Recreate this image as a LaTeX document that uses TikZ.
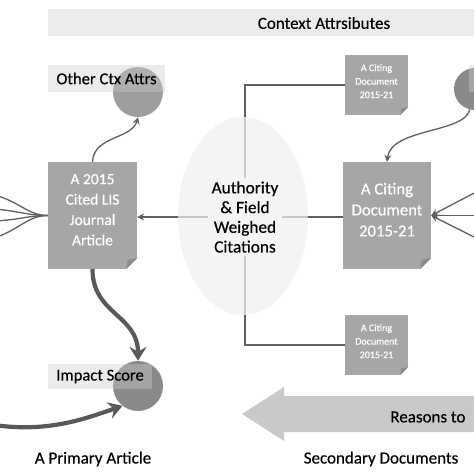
\documentclass[tikz,border=0pt]{standalone}
\usepackage{fontspec}
\setmainfont{Carlito}[FakeBold=0.35]
\usetikzlibrary{arrows.meta,calc}
\definecolor{docgray}{HTML}{A6A6A6}
\definecolor{foldgray}{HTML}{8C8C8C}
\definecolor{bannergray}{HTML}{EBEBEB}
\definecolor{linegray}{HTML}{5F5F5F}
\definecolor{thickgray}{HTML}{595959}
\definecolor{circA}{HTML}{9E9E9E}
\definecolor{circB}{HTML}{8A8A8A}
\definecolor{arrowgray}{HTML}{C9C9C9}
\definecolor{ellgray}{HTML}{F0F0F0}
\definecolor{labgray}{HTML}{CCCCCC}
\pgfdeclarelayer{bg}\pgfdeclarelayer{mid}\pgfsetlayers{bg,mid,main}
\newcommand\stk[2]{\raisebox{#1}[0pt][0pt]{\begin{tabular}{@{}c@{}}#2\end{tabular}}}
\newcommand\dogear[2]{%
  \fill[white] (#1.south east) -- ($(#1.south east)+(-#2,0)$) -- ($(#1.south east)+(0,-#2)$) -- cycle;
  \fill[foldgray] ($(#1.south east)+(-#2,0)$) -- ($(#1.south east)+(0,-#2)$) -- ($(#1.south east)+(-0.85*#2,-0.85*#2)$) -- cycle;}
\begin{document}
\begin{tikzpicture}[x=1pt,y=-1pt,
  docbox/.style={fill=docgray, text=white, inner sep=0pt, align=center},
  labbox/.style={fill=labgray, fill opacity=.39, text opacity=1, inner sep=0pt, font=\fontsize{16.6}{19}\selectfont},
  dot/.style={circle, inner sep=0pt},
  plain/.style={draw=linegray, line width=1.3pt},
  thinarrow/.style={plain, -{Stealth[length=7pt,width=7pt,inset=2.5pt]}},
  thickarrow/.style={draw=thickgray, line width=4.2pt, -{Stealth[length=14pt,width=17pt,inset=5pt]}},
  caption/.style={font=\fontsize{17}{20}\selectfont}]
\useasboundingbox (0,0) rectangle (474,474);
\clip (0,0) rectangle (474,474);

% banner
\node[fill=bannergray, minimum width=440, minimum height=27, inner sep=0, anchor=north west] (banner) at (48,9) {};
\node[caption] (ctx) at (324,23) {Context Attrsibutes};

% circles with labels
\node[dot, fill=circA, minimum size=50] (octx) at (138,92) {};
\node[labbox, minimum width=117, minimum height=27] (octxlab) at (106.5,78.5) {Other Ctx Attrs};
\node[dot, fill=circB, minimum size=50] (impc) at (138,386) {};
\node[labbox, minimum width=104, minimum height=25] (implab) at (100,376.5) {Impact Score};
\node[dot, fill=circB, minimum size=42] (trc) at (475,89) {};
\node[labbox, minimum width=31, minimum height=27] (trlab) at (484.5,78.5) {};

% documents
\node[docbox, minimum width=89, minimum height=107, font=\fontsize{15.5}{20.4}\selectfont] (art) at (92.5,215.5) {\stk{1.2pt}{A 2015\\Cited LIS\\Journal\\Article}};
\dogear{art}{11}
\node[docbox, minimum width=88, minimum height=107, font=\fontsize{16.7}{21}\selectfont] (cite) at (387,215.5) {\stk{0pt}{A Citing\\Document\\2015-21}};
\dogear{cite}{11}
\node[docbox, minimum width=63, minimum height=60, font=\fontsize{10}{13.5}\selectfont] (citeA) at (376.5,85) {\stk{0.6pt}{A Citing\\Document\\2015-21}};
\dogear{citeA}{8}
\node[docbox, minimum width=63, minimum height=60, font=\fontsize{10}{13.5}\selectfont] (citeB) at (376.5,345) {\stk{0.6pt}{A Citing\\Document\\2015-21}};
\dogear{citeB}{8}

% central ellipse
\node[font=\fontsize{17.3}{19.7}\selectfont, align=center, inner sep=3pt] (auth) at (245,217) {Authority\\\& Field\\Weighed\\Citations};
\begin{pgfonlayer}{mid}
\fill[ellgray, fill opacity=.72] (243,216) ellipse [x radius=65, y radius=99];
\end{pgfonlayer}
\begin{pgfonlayer}{bg}
\draw[thinarrow] (auth.west) -- (auth.west -| art.east);
\draw[plain] (auth.east) -- (auth.east -| cite.west);
\draw[plain] (auth.north) |- (citeA.west);
\draw[plain] (auth.south) |- (citeB.west);
\end{pgfonlayer}

% curved arrows
\draw[thinarrow] (art.north) .. controls +(1,-26) and +(-6,22) .. (octx.south);
\draw[thinarrow] (trc.256) .. controls +(-6,24) and +(4,-34) .. (cite.north);
\draw[thickarrow] (art.south) .. controls +(0,45) and +(0,-46) .. (impc.north);
\coordinate (tail) at (-6,425);
\draw[thickarrow] (tail) .. controls +(55,8) and +(-35,12) .. (impc.232);

% right fan
\coordinate (fr1) at (480,190);
\coordinate (fr2) at (480,215.5);
\coordinate (fr3) at (480,240);
\foreach \c in {fr1,fr2,fr3} \draw[thinarrow] (\c) -- (cite.east);

% left fan
\coordinate (fl1) at (-6,195);
\coordinate (fl2) at (-6,209);
\coordinate (fl3) at (-6,221);
\coordinate (fl4) at (-6,238);
\draw[plain] (fl1) .. controls +(25,6) and +(-20,0) .. (art.west);
\draw[plain] (fl2) .. controls +(25,2) and +(-20,0) .. (art.west);
\draw[plain] (fl3) .. controls +(25,-1) and +(-20,0) .. (art.west);
\draw[plain] (fl4) .. controls +(25,-8) and +(-20,0) .. (art.west);

% big arrow
\fill[arrowgray] (242,414) -- (284,387) -- (284,396) -- (480,396) -- (480,432) -- (284,432) -- (284,441) -- cycle;
\node[caption, anchor=east] (reasons) at (469,417) {Reasons to};

% captions
\node[caption] (prim) at (93,459) {A Primary Article};
\node[caption] (sec) at (381,459) {Secondary Documents};
\end{tikzpicture}
\end{document}
